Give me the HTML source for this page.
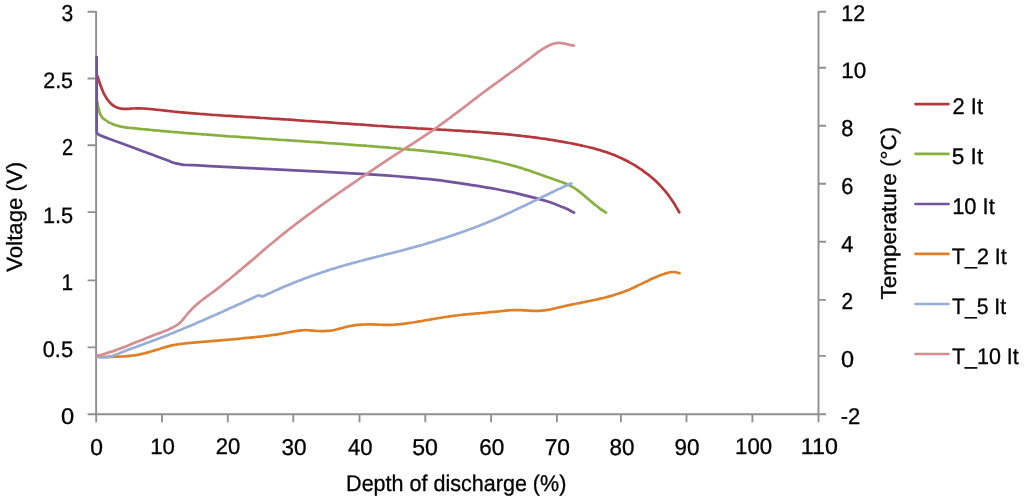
<!DOCTYPE html>
<html><head><meta charset="utf-8"><title>Depth of discharge chart</title>
<style>html,body{margin:0;padding:0;background:#fff;}svg{display:block;}text{font-family:'Liberation Sans', Arial, sans-serif;font-size:22px;fill:#000;stroke:#000;stroke-width:0.3px;text-rendering:geometricPrecision;}</style></head><body>
<svg width="1024" height="501" viewBox="0 0 1024 501">
<rect width="1024" height="501" fill="#fff"/>
<path d="M96.10,10.90V414.20 M818.50,10.90V414.20 M95.20,414.20H819.40 M87.60,11.80H96.10 M87.60,78.50H96.10 M87.60,145.30H96.10 M87.60,212.10H96.10 M87.60,280.40H96.10 M87.60,347.40H96.10 M87.60,414.20H96.10 M818.50,11.80H826.00 M818.50,67.70H826.00 M818.50,125.70H826.00 M818.50,183.80H826.00 M818.50,241.70H826.00 M818.50,299.90H826.00 M818.50,355.90H826.00 M818.50,414.20H826.00 M96.20,414.20V422.30 M162.00,414.20V422.30 M227.80,414.20V422.30 M293.30,414.20V422.30 M359.50,414.20V422.30 M425.30,414.20V422.30 M491.10,414.20V422.30 M556.90,414.20V422.30 M620.90,414.20V422.30 M686.50,414.20V422.30 M752.40,414.20V422.30 M818.50,414.20V422.30" stroke="#909090" stroke-width="1.9" fill="none"/>
<g fill="none" stroke-width="2.7" stroke-linejoin="round" stroke-linecap="round">
<path d="M97.5,76.1 C97.8,77.2 98.8,80.4 99.6,82.8 C100.4,85.2 101.8,88.8 102.5,90.5 C103.2,92.1 103.2,92.0 103.5,92.8 C103.9,93.5 104.1,94.0 104.6,94.9 C105.1,95.8 106.0,97.3 106.5,98.3 C107.1,99.2 107.5,99.7 108.0,100.3 C108.5,101.0 108.9,101.5 109.6,102.2 C110.2,102.9 111.0,103.8 112.0,104.6 C113.0,105.4 114.5,106.3 115.6,106.9 C116.7,107.5 117.9,107.8 118.6,108.1 C119.3,108.4 119.5,108.3 120.0,108.4 C120.5,108.5 120.9,108.6 121.6,108.7 C122.3,108.8 123.0,108.9 124.0,108.9 C125.0,108.9 126.5,108.9 127.6,108.8 C128.8,108.8 129.9,108.7 130.7,108.6 C131.4,108.6 131.5,108.6 132.0,108.5 C132.5,108.5 132.9,108.5 133.7,108.5 C134.5,108.4 135.7,108.4 136.7,108.4 C137.7,108.4 138.7,108.4 139.7,108.4 C140.7,108.4 141.7,108.5 142.7,108.5 C143.7,108.5 144.7,108.6 145.7,108.7 C146.7,108.7 148.1,108.8 148.7,108.9 C149.4,108.9 149.4,108.9 149.9,109.0 C150.4,109.0 150.9,109.1 151.8,109.2 C152.6,109.2 154.1,109.4 154.8,109.5 C155.5,109.5 155.4,109.5 155.9,109.6 C156.4,109.6 157.0,109.7 157.8,109.8 C158.6,109.9 159.8,110.0 160.8,110.1 C161.8,110.2 163.1,110.4 163.8,110.5 C164.5,110.6 164.5,110.6 165.0,110.6 C165.5,110.7 166.0,110.7 166.8,110.8 C167.6,110.9 168.8,111.0 169.8,111.1 C170.9,111.2 171.9,111.3 172.9,111.5 C173.9,111.6 174.9,111.7 175.9,111.8 C176.9,111.9 177.9,112.0 178.9,112.1 C179.9,112.1 180.9,112.2 181.9,112.3 C182.9,112.4 183.9,112.5 184.9,112.6 C185.9,112.7 186.9,112.8 187.9,112.9 C188.9,113.0 189.9,113.1 190.9,113.1 C192.0,113.2 193.0,113.3 194.0,113.4 C195.0,113.5 196.0,113.6 197.0,113.6 C198.0,113.7 199.0,113.8 200.0,113.9 C201.0,113.9 202.0,114.0 203.0,114.1 C204.0,114.2 205.0,114.2 206.0,114.3 C207.0,114.4 208.0,114.5 209.0,114.5 C210.0,114.6 211.0,114.7 212.1,114.8 C213.1,114.8 214.1,114.9 215.1,115.0 C216.1,115.0 217.1,115.1 218.1,115.2 C219.1,115.2 220.1,115.3 221.1,115.4 C222.1,115.4 223.1,115.5 224.1,115.6 C225.1,115.6 226.1,115.7 227.1,115.8 C228.1,115.8 229.1,115.9 230.1,115.9 C231.1,116.0 232.1,116.1 233.2,116.1 C234.2,116.2 235.2,116.3 236.2,116.3 C237.2,116.4 238.2,116.4 239.2,116.5 C240.2,116.6 241.2,116.6 242.2,116.7 C243.2,116.7 244.2,116.8 245.2,116.9 C246.2,116.9 247.2,117.0 248.2,117.1 C249.2,117.1 250.2,117.2 251.2,117.2 C252.2,117.3 253.2,117.4 254.3,117.4 C255.3,117.5 256.3,117.5 257.3,117.6 C258.2,117.7 258.9,117.7 259.9,117.8 C260.9,117.8 262.2,117.9 263.3,118.0 C264.4,118.0 265.3,118.1 266.3,118.2 C267.3,118.2 268.3,118.3 269.3,118.4 C270.3,118.4 271.3,118.5 272.3,118.6 C273.3,118.6 274.4,118.7 275.4,118.8 C276.4,118.8 277.4,118.9 278.4,118.9 C279.4,119.0 280.4,119.1 281.4,119.1 C282.4,119.2 283.4,119.3 284.4,119.3 C285.4,119.4 286.4,119.5 287.4,119.5 C288.4,119.6 289.4,119.7 290.4,119.7 C291.4,119.8 292.4,119.9 293.4,119.9 C294.4,120.0 295.5,120.1 296.5,120.2 C297.5,120.2 298.5,120.3 299.5,120.4 C300.5,120.4 301.5,120.5 302.5,120.6 C303.5,120.6 304.5,120.7 305.5,120.8 C306.5,120.8 307.8,120.9 308.5,121.0 C309.3,121.0 309.5,121.0 310.0,121.1 C310.5,121.1 310.8,121.1 311.5,121.2 C312.3,121.2 313.5,121.3 314.5,121.4 C315.5,121.5 316.7,121.5 317.6,121.6 C318.4,121.7 318.8,121.7 319.8,121.8 C320.8,121.8 322.5,121.9 323.6,122.0 C324.7,122.1 325.6,122.2 326.6,122.2 C327.6,122.3 328.6,122.4 329.6,122.4 C330.6,122.5 331.6,122.6 332.6,122.7 C333.6,122.7 334.6,122.8 335.6,122.9 C336.7,122.9 337.7,123.0 338.7,123.1 C339.7,123.1 340.7,123.2 341.7,123.3 C342.7,123.4 343.7,123.4 344.7,123.5 C345.7,123.6 346.7,123.6 347.7,123.7 C348.7,123.8 349.7,123.8 350.7,123.9 C351.7,124.0 352.7,124.1 353.7,124.1 C354.7,124.2 355.7,124.3 356.7,124.3 C357.8,124.4 358.8,124.5 359.8,124.5 C360.8,124.6 361.8,124.7 362.8,124.7 C363.8,124.8 364.8,124.9 365.8,125.0 C366.8,125.0 368.1,125.1 368.8,125.2 C369.5,125.2 369.4,125.2 369.9,125.2 C370.4,125.3 371.0,125.3 371.8,125.4 C372.6,125.4 373.8,125.5 374.8,125.6 C375.8,125.6 376.8,125.7 377.8,125.8 C378.9,125.8 379.9,125.9 380.9,126.0 C381.9,126.0 382.9,126.1 383.9,126.2 C384.9,126.2 385.9,126.3 386.9,126.4 C387.9,126.4 388.9,126.5 389.9,126.6 C390.9,126.6 391.9,126.7 392.9,126.8 C393.9,126.8 394.9,126.9 395.9,127.0 C396.9,127.0 397.9,127.1 399.0,127.2 C400.0,127.2 401.0,127.3 402.0,127.3 C403.0,127.4 404.0,127.5 405.0,127.5 C406.0,127.6 407.0,127.7 408.0,127.7 C409.0,127.8 410.0,127.9 411.0,127.9 C412.0,128.0 413.0,128.0 414.0,128.1 C415.0,128.2 416.0,128.2 417.0,128.3 C418.0,128.3 419.0,128.4 420.0,128.5 C421.0,128.5 422.1,128.6 423.1,128.6 C424.1,128.7 425.1,128.8 426.1,128.8 C427.1,128.9 428.1,128.9 429.1,129.0 C430.1,129.0 431.1,129.1 432.1,129.2 C433.1,129.2 434.1,129.3 435.1,129.3 C436.1,129.4 437.1,129.4 438.1,129.5 C439.1,129.6 440.1,129.6 441.2,129.7 C442.2,129.7 443.2,129.8 444.2,129.9 C445.2,129.9 446.2,130.0 447.2,130.0 C448.2,130.1 449.2,130.1 450.2,130.2 C451.2,130.3 452.2,130.3 453.2,130.4 C454.2,130.4 455.2,130.5 456.2,130.6 C457.2,130.6 458.2,130.7 459.2,130.7 C460.2,130.8 461.3,130.9 462.3,130.9 C463.3,131.0 464.3,131.1 465.3,131.1 C466.3,131.2 467.3,131.3 468.3,131.3 C469.3,131.4 470.3,131.4 471.3,131.5 C472.3,131.6 473.3,131.7 474.3,131.7 C475.3,131.8 476.4,131.9 477.3,131.9 C478.3,132.0 478.9,132.0 479.9,132.1 C480.9,132.2 482.3,132.3 483.4,132.4 C484.4,132.4 485.4,132.5 486.4,132.6 C487.4,132.7 488.4,132.7 489.4,132.8 C490.4,132.9 491.4,133.0 492.4,133.1 C493.4,133.1 494.4,133.2 495.4,133.3 C496.4,133.4 497.4,133.5 498.4,133.6 C499.4,133.7 500.4,133.7 501.4,133.8 C502.4,133.9 503.5,134.0 504.5,134.1 C505.5,134.2 506.5,134.3 507.5,134.4 C508.5,134.5 509.5,134.6 510.5,134.7 C511.5,134.8 512.5,134.9 513.5,135.0 C514.5,135.1 515.5,135.2 516.5,135.3 C517.5,135.4 518.5,135.5 519.5,135.6 C520.5,135.7 521.5,135.9 522.5,136.0 C523.6,136.1 524.6,136.2 525.6,136.3 C526.6,136.4 527.8,136.6 528.6,136.7 C529.3,136.8 529.5,136.8 530.0,136.9 C530.5,136.9 530.8,137.0 531.6,137.1 C532.4,137.2 533.6,137.3 534.6,137.4 C535.6,137.6 536.6,137.7 537.6,137.8 C538.6,138.0 539.6,138.1 540.6,138.3 C541.6,138.4 542.6,138.5 543.6,138.7 C544.7,138.8 545.7,139.0 546.7,139.1 C547.7,139.3 548.7,139.4 549.7,139.6 C550.7,139.7 552.0,140.0 552.7,140.1 C553.4,140.2 553.5,140.2 554.0,140.3 C554.5,140.4 554.9,140.4 555.7,140.6 C556.5,140.7 557.7,140.9 558.7,141.1 C559.7,141.2 560.7,141.4 561.7,141.6 C562.7,141.8 563.7,141.9 564.7,142.1 C565.8,142.3 566.8,142.5 567.8,142.7 C568.8,142.9 569.8,143.1 570.8,143.3 C571.8,143.5 572.8,143.7 573.8,143.9 C574.8,144.1 576.1,144.3 576.8,144.5 C577.5,144.6 577.4,144.6 577.9,144.7 C578.4,144.8 579.0,144.9 579.8,145.1 C580.6,145.3 581.8,145.5 582.8,145.8 C583.8,146.0 584.8,146.2 585.9,146.5 C586.9,146.7 587.9,146.9 588.9,147.2 C589.9,147.4 590.9,147.7 591.9,147.9 C592.9,148.2 593.9,148.4 594.9,148.7 C595.9,149.0 596.9,149.3 597.9,149.6 C598.9,149.8 599.9,150.1 600.9,150.4 C601.9,150.8 602.9,151.1 603.9,151.4 C604.9,151.7 605.9,152.1 607.0,152.4 C608.0,152.7 609.0,153.1 610.0,153.5 C611.0,153.8 612.0,154.2 613.0,154.6 C614.0,155.0 615.0,155.4 616.0,155.8 C617.0,156.2 618.0,156.7 619.0,157.1 C620.0,157.6 621.0,158.0 622.0,158.5 C623.0,159.0 624.0,159.5 625.0,160.0 C626.0,160.5 627.0,161.0 628.1,161.5 C629.1,162.1 630.1,162.6 631.1,163.2 C632.1,163.7 633.3,164.5 634.1,164.9 C634.9,165.4 635.4,165.7 635.9,166.0 C636.4,166.4 636.4,166.3 637.1,166.8 C637.8,167.3 639.1,168.1 640.1,168.8 C641.1,169.5 642.1,170.1 643.1,170.9 C644.1,171.6 645.3,172.5 646.1,173.1 C646.9,173.7 647.4,174.0 647.9,174.4 C648.4,174.8 648.4,174.8 649.2,175.4 C649.9,176.0 651.2,177.0 652.2,177.9 C653.2,178.8 654.2,179.6 655.2,180.6 C656.2,181.5 657.4,182.7 658.2,183.4 C659.0,184.2 659.4,184.7 659.9,185.2 C660.4,185.7 660.5,185.8 661.2,186.6 C661.9,187.4 663.2,188.8 664.2,190.0 C665.2,191.2 666.4,192.6 667.2,193.7 C668.1,194.8 668.5,195.3 669.5,196.7 C670.5,198.1 672.5,201.0 673.3,202.2 C674.1,203.4 673.8,203.0 674.3,203.8 C674.8,204.6 675.5,205.6 676.3,207.1 C677.1,208.5 678.8,211.5 679.3,212.4" stroke="#B3393F"/>
<path d="M97.0,101.1 C97.2,102.3 97.8,105.7 98.3,107.8 C98.8,109.8 99.4,111.9 100.0,113.5 C100.6,115.1 101.5,116.4 102.0,117.2 C102.5,118.0 102.4,117.7 103.0,118.3 C103.7,118.8 105.2,119.9 106.0,120.5 C106.9,121.1 107.5,121.5 108.0,121.8 C108.5,122.1 108.4,122.0 109.0,122.4 C109.7,122.7 111.1,123.4 112.1,123.8 C113.1,124.3 114.1,124.7 115.1,125.0 C116.1,125.4 117.1,125.7 118.1,125.9 C119.1,126.2 120.1,126.4 121.1,126.7 C122.1,126.9 123.1,127.0 124.1,127.2 C125.1,127.3 126.1,127.5 127.1,127.6 C128.1,127.7 129.3,127.9 130.1,127.9 C130.9,128.0 131.5,128.1 132.0,128.1 C132.5,128.2 132.4,128.2 133.1,128.2 C133.8,128.3 135.1,128.4 136.2,128.5 C137.2,128.6 138.2,128.7 139.2,128.8 C140.2,128.9 141.2,129.0 142.2,129.1 C143.2,129.2 144.2,129.3 145.2,129.4 C146.2,129.5 147.2,129.6 148.2,129.7 C149.2,129.8 150.2,129.9 151.2,130.0 C152.2,130.1 153.4,130.2 154.2,130.3 C155.0,130.3 155.4,130.4 155.9,130.4 C156.4,130.5 156.5,130.5 157.2,130.5 C158.0,130.6 159.2,130.7 160.2,130.8 C161.3,130.9 162.3,131.0 163.3,131.1 C164.3,131.2 165.3,131.2 166.3,131.3 C167.3,131.4 168.3,131.5 169.3,131.6 C170.3,131.7 171.3,131.8 172.3,131.9 C173.3,131.9 174.3,132.0 175.3,132.1 C176.3,132.2 177.6,132.3 178.3,132.4 C179.1,132.4 179.3,132.4 179.8,132.5 C180.3,132.5 180.6,132.5 181.3,132.6 C182.1,132.7 183.3,132.8 184.3,132.9 C185.3,132.9 186.4,133.0 187.4,133.1 C188.4,133.2 189.4,133.3 190.4,133.3 C191.4,133.4 192.4,133.5 193.4,133.6 C194.4,133.7 195.4,133.7 196.4,133.8 C197.4,133.9 198.4,134.0 199.4,134.0 C200.4,134.1 201.4,134.2 202.4,134.3 C203.4,134.4 204.4,134.4 205.4,134.5 C206.4,134.6 207.7,134.7 208.4,134.7 C209.2,134.8 209.3,134.8 209.8,134.8 C210.3,134.9 210.7,134.9 211.4,135.0 C212.2,135.0 213.5,135.1 214.5,135.2 C215.5,135.3 216.5,135.3 217.5,135.4 C218.5,135.5 219.5,135.5 220.5,135.6 C221.5,135.7 222.5,135.8 223.5,135.8 C224.5,135.9 225.5,136.0 226.5,136.1 C227.5,136.1 228.5,136.2 229.5,136.3 C230.5,136.3 231.5,136.4 232.5,136.5 C233.5,136.6 234.5,136.6 235.5,136.7 C236.5,136.8 237.6,136.8 238.6,136.9 C239.6,137.0 240.6,137.0 241.6,137.1 C242.6,137.2 243.6,137.3 244.6,137.3 C245.6,137.4 246.6,137.5 247.6,137.5 C248.6,137.6 249.6,137.7 250.6,137.7 C251.6,137.8 252.6,137.9 253.6,137.9 C254.6,138.0 255.6,138.1 256.6,138.2 C257.6,138.2 258.6,138.3 259.6,138.4 C260.6,138.4 261.6,138.5 262.7,138.6 C263.7,138.6 264.7,138.7 265.7,138.8 C266.7,138.8 267.7,138.9 268.7,139.0 C269.7,139.0 270.7,139.1 271.7,139.2 C272.7,139.2 273.7,139.3 274.7,139.4 C275.7,139.4 276.7,139.5 277.7,139.6 C278.7,139.6 279.7,139.7 280.7,139.8 C281.7,139.8 282.7,139.9 283.7,140.0 C284.7,140.1 285.7,140.1 286.7,140.2 C287.7,140.3 288.8,140.3 289.8,140.4 C290.8,140.5 291.8,140.5 292.8,140.6 C293.8,140.7 294.8,140.7 295.8,140.8 C296.8,140.9 297.8,140.9 298.8,141.0 C299.8,141.1 300.8,141.1 301.8,141.2 C302.8,141.3 303.8,141.3 304.8,141.4 C305.8,141.5 307.0,141.6 307.8,141.6 C308.7,141.7 309.0,141.7 310.0,141.8 C311.0,141.8 312.7,141.9 313.9,142.0 C315.0,142.1 315.9,142.2 316.9,142.2 C317.9,142.3 318.9,142.4 319.9,142.4 C320.9,142.5 321.9,142.6 322.9,142.7 C323.9,142.7 324.9,142.8 325.9,142.9 C326.9,142.9 327.9,143.0 328.9,143.1 C329.9,143.1 330.9,143.2 331.9,143.3 C332.9,143.4 333.9,143.4 334.9,143.5 C335.9,143.6 336.9,143.6 337.9,143.7 C339.0,143.8 340.0,143.9 341.0,143.9 C342.0,144.0 343.0,144.1 344.0,144.2 C345.0,144.2 346.0,144.3 347.0,144.4 C348.0,144.5 349.0,144.5 350.0,144.6 C351.0,144.7 352.0,144.8 353.0,144.8 C354.0,144.9 355.0,145.0 356.0,145.1 C357.0,145.1 358.0,145.2 359.0,145.3 C360.0,145.4 361.0,145.4 362.0,145.5 C363.0,145.6 364.0,145.7 365.1,145.7 C366.1,145.8 367.3,145.9 368.1,146.0 C368.9,146.0 369.4,146.1 369.9,146.1 C370.4,146.2 370.4,146.2 371.1,146.2 C371.8,146.3 373.1,146.4 374.1,146.5 C375.1,146.5 376.1,146.6 377.1,146.7 C378.1,146.8 379.1,146.9 380.1,147.0 C381.1,147.0 382.1,147.1 383.1,147.2 C384.1,147.3 385.1,147.4 386.1,147.4 C387.1,147.5 388.1,147.6 389.1,147.7 C390.2,147.8 391.2,147.9 392.2,148.0 C393.2,148.0 394.2,148.1 395.2,148.2 C396.2,148.3 397.2,148.4 398.2,148.5 C399.2,148.6 400.2,148.7 401.2,148.8 C402.2,148.8 403.2,148.9 404.2,149.0 C405.2,149.1 406.2,149.2 407.2,149.3 C408.2,149.4 409.2,149.5 410.2,149.6 C411.2,149.7 412.2,149.8 413.2,149.8 C414.2,149.9 415.3,150.0 416.3,150.1 C417.3,150.2 418.3,150.3 419.3,150.4 C420.3,150.5 421.3,150.6 422.3,150.7 C423.3,150.8 424.3,150.9 425.3,151.0 C426.3,151.1 427.5,151.2 428.3,151.3 C429.1,151.4 429.5,151.4 430.0,151.5 C430.5,151.5 430.6,151.5 431.3,151.6 C432.0,151.7 433.3,151.8 434.3,151.9 C435.3,152.0 436.3,152.1 437.3,152.3 C438.3,152.4 439.3,152.5 440.3,152.6 C441.4,152.7 442.4,152.8 443.4,152.9 C444.4,153.0 445.6,153.2 446.4,153.3 C447.1,153.4 447.5,153.4 448.0,153.5 C448.5,153.5 448.7,153.5 449.4,153.6 C450.1,153.7 451.4,153.9 452.4,154.0 C453.4,154.1 454.4,154.3 455.4,154.4 C456.4,154.5 457.4,154.7 458.4,154.8 C459.4,154.9 460.4,155.1 461.4,155.2 C462.4,155.4 463.7,155.6 464.4,155.7 C465.2,155.8 465.4,155.8 465.9,155.9 C466.4,156.0 466.7,156.0 467.5,156.1 C468.2,156.2 469.5,156.4 470.5,156.6 C471.5,156.7 472.5,156.9 473.5,157.1 C474.5,157.2 475.5,157.4 476.5,157.6 C477.5,157.8 478.5,157.9 479.5,158.1 C480.5,158.3 481.8,158.5 482.5,158.7 C483.2,158.8 483.4,158.8 483.9,158.9 C484.4,159.0 484.8,159.1 485.5,159.2 C486.3,159.4 487.5,159.6 488.5,159.8 C489.5,160.0 490.5,160.2 491.6,160.5 C492.6,160.7 493.6,160.9 494.6,161.1 C495.6,161.3 496.6,161.5 497.6,161.8 C498.6,162.0 499.9,162.3 500.6,162.5 C501.3,162.6 501.3,162.6 501.8,162.8 C502.3,162.9 502.8,163.0 503.6,163.2 C504.4,163.4 505.6,163.7 506.6,164.0 C507.6,164.2 508.6,164.5 509.6,164.7 C510.6,165.0 511.6,165.3 512.6,165.6 C513.6,165.8 514.6,166.1 515.6,166.4 C516.6,166.7 517.7,167.0 518.7,167.3 C519.7,167.6 520.8,167.9 521.7,168.2 C522.6,168.5 523.0,168.6 524.0,168.9 C525.0,169.3 526.6,169.8 527.7,170.1 C528.8,170.5 529.7,170.8 530.7,171.1 C531.7,171.5 532.7,171.8 533.7,172.2 C534.7,172.5 535.7,172.9 536.7,173.2 C537.7,173.6 538.7,173.9 539.7,174.3 C540.7,174.7 541.7,175.0 542.8,175.4 C543.8,175.7 544.8,176.1 545.8,176.5 C546.8,176.8 547.8,177.2 548.8,177.6 C549.8,177.9 550.8,178.3 551.8,178.6 C552.8,179.0 553.8,179.4 554.8,179.7 C555.8,180.1 556.8,180.4 557.8,180.8 C558.8,181.1 559.8,181.5 560.8,181.8 C561.8,182.2 563.0,182.6 563.8,182.9 C564.7,183.3 565.0,183.4 566.0,183.8 C567.0,184.2 568.9,185.1 569.9,185.6 C570.9,186.1 571.0,186.1 572.0,186.7 C573.0,187.3 574.7,188.4 575.9,189.2 C577.0,190.0 577.9,190.6 578.9,191.4 C579.9,192.1 581.1,193.1 581.9,193.7 C582.7,194.4 583.3,194.8 583.8,195.3 C584.3,195.7 584.2,195.6 584.9,196.2 C585.6,196.8 586.9,197.9 587.9,198.7 C588.9,199.6 589.9,200.5 590.9,201.3 C591.9,202.2 593.1,203.2 594.0,203.9 C594.8,204.6 595.0,204.7 596.0,205.5 C597.0,206.3 598.8,207.7 600.0,208.6 C601.1,209.5 602.0,210.1 603.0,210.7 C604.0,211.4 605.5,212.3 606.0,212.6" stroke="#88B03F"/>
<path d="M96.7,57.2 L96.7,131.8 C97.2,132.3 96.0,133.3 99.5,135.0 C103.0,136.7 111.8,139.7 118.0,142.0 C124.2,144.3 130.8,146.7 137.0,149.0 C143.2,151.3 149.8,153.9 155.0,155.8 C160.2,157.7 164.5,159.3 168.0,160.6 C171.5,161.9 173.4,162.7 176.0,163.4 C178.6,164.1 180.8,164.5 183.4,164.8 C186.0,165.1 187.4,164.9 191.8,165.1 C196.2,165.3 198.5,165.5 209.8,166.1 C221.2,166.7 241.6,167.7 259.9,168.6 C278.2,169.5 301.5,170.6 319.8,171.6 C338.1,172.6 356.5,173.6 369.9,174.4 C383.3,175.2 389.0,175.6 400.0,176.5 C411.0,177.4 423.9,178.4 435.9,179.8 C447.9,181.2 461.9,183.6 471.9,185.1 C481.9,186.6 487.8,187.5 495.8,189.0 C503.8,190.5 511.1,192.0 519.8,194.1 C528.5,196.2 540.6,199.2 547.9,201.5 C555.2,203.8 559.4,205.8 563.8,207.6 C568.1,209.4 572.3,211.8 574.0,212.6" stroke="#71549C"/>
<path d="M97.0,356.4 C97.5,356.5 99.0,356.6 100.0,356.6 C101.0,356.7 102.0,356.7 103.0,356.8 C104.0,356.8 105.0,356.8 106.0,356.8 C107.0,356.8 108.3,356.8 109.0,356.8 C109.7,356.8 109.9,356.8 110.4,356.8 C110.9,356.8 111.2,356.8 112.0,356.8 C112.8,356.7 114.0,356.7 115.0,356.7 C116.0,356.7 117.0,356.7 118.0,356.6 C119.0,356.6 120.0,356.5 121.0,356.5 C122.0,356.5 123.0,356.4 124.0,356.3 C125.0,356.3 126.0,356.2 127.0,356.1 C128.0,356.0 129.0,355.9 130.0,355.8 C131.0,355.7 132.0,355.6 133.0,355.5 C134.0,355.4 135.0,355.2 136.0,355.1 C137.0,354.9 138.0,354.7 139.0,354.6 C140.0,354.4 141.0,354.2 142.0,353.9 C143.0,353.7 144.0,353.5 145.0,353.2 C146.0,353.0 147.0,352.7 148.0,352.4 C149.0,352.1 150.0,351.8 151.0,351.5 C152.0,351.2 153.0,350.9 154.0,350.6 C155.0,350.3 156.1,350.0 157.1,349.7 C158.1,349.4 159.1,349.0 160.1,348.7 C161.1,348.4 162.1,348.1 163.1,347.8 C164.1,347.5 165.1,347.2 166.1,346.9 C167.1,346.7 168.1,346.4 169.1,346.1 C170.1,345.9 171.1,345.7 172.1,345.4 C173.1,345.2 174.1,345.0 175.1,344.8 C176.1,344.6 177.1,344.5 178.1,344.3 C179.1,344.1 180.1,344.0 181.1,343.9 C182.1,343.7 183.1,343.6 184.1,343.5 C185.1,343.4 186.1,343.2 187.1,343.1 C188.1,343.0 189.1,342.9 190.1,342.8 C191.1,342.8 192.1,342.7 193.1,342.6 C194.1,342.5 195.1,342.4 196.1,342.3 C197.1,342.3 198.1,342.2 199.1,342.1 C200.1,342.0 201.1,342.0 202.1,341.9 C203.1,341.8 204.1,341.7 205.1,341.6 C206.1,341.6 207.1,341.5 208.1,341.4 C209.1,341.3 210.1,341.2 211.1,341.2 C212.1,341.1 213.1,341.0 214.1,340.9 C215.1,340.8 216.1,340.8 217.1,340.7 C218.1,340.6 219.1,340.5 220.1,340.4 C221.1,340.3 222.1,340.2 223.1,340.2 C224.1,340.1 225.1,340.0 226.1,339.9 C227.1,339.8 228.1,339.7 229.1,339.6 C230.1,339.5 231.1,339.5 232.1,339.4 C233.1,339.3 234.1,339.2 235.1,339.1 C236.1,339.0 237.1,338.9 238.1,338.8 C239.1,338.7 240.1,338.6 241.1,338.5 C242.1,338.4 243.1,338.3 244.1,338.2 C245.1,338.1 246.1,338.0 247.1,337.9 C248.1,337.8 249.1,337.7 250.1,337.6 C251.1,337.5 252.1,337.4 253.1,337.3 C254.1,337.2 255.1,337.1 256.1,337.0 C257.1,336.9 258.1,336.8 259.1,336.7 C260.1,336.6 261.2,336.5 262.1,336.4 C263.1,336.2 264.0,336.1 265.0,336.0 C266.0,335.9 267.1,335.8 268.1,335.6 C269.2,335.5 270.1,335.4 271.1,335.2 C272.2,335.1 273.2,335.0 274.2,334.8 C275.2,334.7 276.2,334.5 277.2,334.4 C278.2,334.2 279.2,334.1 280.2,333.9 C281.2,333.7 282.2,333.5 283.2,333.4 C284.2,333.2 285.2,333.0 286.2,332.8 C287.2,332.6 288.2,332.4 289.2,332.2 C290.2,332.0 291.2,331.8 292.2,331.7 C293.2,331.5 294.3,331.3 295.2,331.1 C296.0,331.0 296.4,330.9 297.4,330.8 C298.4,330.7 300.0,330.5 301.2,330.4 C302.3,330.3 303.3,330.2 304.2,330.2 C305.0,330.1 305.4,330.1 306.4,330.2 C307.4,330.2 309.1,330.3 310.2,330.3 C311.3,330.4 312.3,330.5 313.2,330.6 C314.1,330.7 314.4,330.7 315.4,330.8 C316.4,330.8 318.1,330.9 319.2,331.0 C320.3,331.0 321.3,331.1 322.2,331.1 C323.1,331.1 323.4,331.1 324.4,331.1 C325.4,331.0 327.1,330.9 328.2,330.8 C329.3,330.8 330.4,330.6 331.2,330.5 C332.1,330.4 332.3,330.4 333.3,330.2 C334.3,330.0 336.1,329.6 337.2,329.3 C338.4,329.0 339.2,328.8 340.2,328.5 C341.2,328.3 342.2,328.0 343.2,327.7 C344.2,327.4 345.2,327.2 346.2,326.9 C347.2,326.7 348.2,326.5 349.2,326.2 C350.2,326.0 351.2,325.9 352.2,325.7 C353.2,325.5 354.2,325.4 355.2,325.2 C356.2,325.1 357.2,325.0 358.2,324.9 C359.2,324.8 360.2,324.7 361.2,324.6 C362.2,324.6 363.2,324.5 364.2,324.5 C365.2,324.4 366.2,324.4 367.2,324.4 C368.2,324.4 369.4,324.4 370.2,324.4 C371.1,324.4 371.4,324.4 372.4,324.4 C373.4,324.4 375.1,324.5 376.2,324.6 C377.4,324.6 378.2,324.7 379.2,324.7 C380.2,324.7 381.2,324.8 382.2,324.8 C383.2,324.9 384.2,324.9 385.2,324.9 C386.2,324.9 387.2,324.9 388.2,324.9 C389.3,324.9 390.3,324.9 391.3,324.8 C392.3,324.8 393.3,324.7 394.3,324.7 C395.3,324.6 396.3,324.5 397.3,324.4 C398.3,324.4 399.3,324.3 400.3,324.1 C401.3,324.0 402.3,323.9 403.3,323.8 C404.3,323.7 405.3,323.6 406.3,323.4 C407.3,323.3 408.3,323.1 409.3,323.0 C410.3,322.8 411.3,322.7 412.3,322.5 C413.3,322.4 414.4,322.2 415.3,322.1 C416.1,321.9 416.3,321.9 417.3,321.7 C418.3,321.6 420.1,321.2 421.3,321.1 C422.4,320.9 423.3,320.7 424.3,320.5 C425.3,320.4 426.3,320.2 427.3,320.0 C428.2,319.9 429.0,319.7 430.0,319.6 C431.0,319.4 432.2,319.2 433.3,319.0 C434.3,318.8 435.3,318.7 436.3,318.5 C437.3,318.3 438.3,318.2 439.3,318.0 C440.3,317.8 441.3,317.7 442.3,317.5 C443.3,317.4 444.3,317.2 445.3,317.0 C446.3,316.9 447.3,316.7 448.3,316.6 C449.3,316.4 450.3,316.3 451.3,316.2 C452.3,316.0 453.5,315.9 454.3,315.7 C455.2,315.6 455.4,315.6 456.4,315.5 C457.4,315.4 459.2,315.1 460.3,315.0 C461.5,314.9 462.3,314.8 463.3,314.7 C464.3,314.6 465.3,314.5 466.3,314.4 C467.3,314.3 468.3,314.2 469.3,314.1 C470.3,314.0 471.3,313.9 472.3,313.8 C473.3,313.7 474.3,313.6 475.3,313.5 C476.3,313.4 477.3,313.4 478.3,313.3 C479.3,313.2 480.3,313.1 481.3,313.0 C482.3,312.9 483.3,312.8 484.3,312.8 C485.3,312.7 486.3,312.6 487.3,312.5 C488.3,312.4 489.3,312.3 490.3,312.2 C491.3,312.1 492.3,312.0 493.3,311.9 C494.3,311.9 495.3,311.8 496.3,311.7 C497.3,311.6 498.3,311.5 499.3,311.3 C500.3,311.2 501.3,311.1 502.3,311.0 C503.3,310.9 504.3,310.8 505.4,310.7 C506.4,310.6 507.4,310.5 508.4,310.4 C509.4,310.3 510.5,310.2 511.4,310.2 C512.2,310.1 512.5,310.1 513.5,310.1 C514.5,310.1 516.2,310.0 517.4,310.0 C518.5,310.1 519.4,310.1 520.4,310.1 C521.4,310.2 522.4,310.2 523.4,310.3 C524.4,310.3 525.4,310.4 526.4,310.4 C527.4,310.5 528.4,310.6 529.4,310.6 C530.4,310.7 531.4,310.8 532.4,310.8 C533.4,310.8 534.4,310.9 535.4,310.9 C536.4,310.9 537.5,310.9 538.4,310.9 C539.2,310.9 539.4,310.9 540.4,310.8 C541.4,310.7 543.2,310.5 544.4,310.4 C545.5,310.3 546.6,310.1 547.4,309.9 C548.2,309.8 548.4,309.8 549.4,309.6 C550.4,309.4 552.2,309.0 553.4,308.7 C554.6,308.5 555.4,308.3 556.4,308.0 C557.4,307.8 558.4,307.6 559.4,307.3 C560.4,307.1 561.4,306.8 562.4,306.6 C563.4,306.4 564.4,306.1 565.4,305.9 C566.4,305.7 567.4,305.5 568.4,305.3 C569.4,305.0 570.4,304.8 571.4,304.6 C572.4,304.4 573.5,304.2 574.4,304.0 C575.3,303.8 576.0,303.7 577.0,303.5 C578.0,303.3 579.3,303.0 580.4,302.8 C581.5,302.6 582.4,302.4 583.4,302.2 C584.4,302.0 585.4,301.8 586.4,301.6 C587.4,301.4 588.4,301.2 589.4,301.0 C590.4,300.8 591.4,300.6 592.4,300.4 C593.4,300.2 594.4,300.0 595.4,299.8 C596.4,299.6 597.4,299.3 598.4,299.1 C599.4,298.9 600.4,298.7 601.4,298.4 C602.4,298.2 603.4,297.9 604.4,297.7 C605.4,297.4 606.4,297.2 607.4,296.9 C608.4,296.7 609.4,296.4 610.4,296.1 C611.4,295.8 612.4,295.5 613.4,295.2 C614.4,294.9 615.4,294.6 616.4,294.3 C617.4,294.0 618.4,293.6 619.4,293.3 C620.4,293.0 621.5,292.6 622.5,292.2 C623.5,291.9 624.5,291.5 625.5,291.1 C626.5,290.7 627.5,290.3 628.5,289.9 C629.5,289.5 630.5,289.1 631.5,288.6 C632.5,288.2 633.5,287.7 634.5,287.2 C635.5,286.8 636.5,286.3 637.5,285.8 C638.5,285.4 639.5,284.9 640.5,284.4 C641.5,283.9 642.5,283.4 643.5,282.9 C644.5,282.4 645.5,281.9 646.5,281.5 C647.5,281.0 648.5,280.5 649.5,280.0 C650.5,279.5 651.6,279.0 652.5,278.6 C653.4,278.2 654.0,277.9 655.0,277.5 C656.0,277.0 657.4,276.4 658.5,276.0 C659.6,275.6 660.6,275.2 661.5,274.8 C662.4,274.5 662.9,274.3 663.9,274.0 C664.9,273.6 666.6,273.1 667.5,272.9 C668.4,272.6 668.5,272.6 669.5,272.4 C670.5,272.3 672.4,272.0 673.5,272.0 C674.6,272.0 674.9,272.0 675.9,272.2 C676.9,272.4 678.9,273.0 679.5,273.2" stroke="#DF8026"/>
<path d="M97.0,356.7 C97.5,356.8 99.0,357.2 100.0,357.4 C101.0,357.5 102.2,357.5 103.1,357.5 C104.1,357.5 104.7,357.5 105.7,357.3 C106.7,357.2 108.1,356.9 109.2,356.7 C110.3,356.5 111.5,356.1 112.3,355.9 C113.0,355.6 113.0,355.6 113.5,355.4 C114.0,355.3 114.5,355.1 115.3,354.8 C116.1,354.5 117.4,354.0 118.4,353.7 C119.4,353.3 120.3,352.9 121.3,352.5 C122.3,352.1 123.4,351.7 124.5,351.3 C125.5,350.9 126.5,350.5 127.5,350.1 C128.5,349.7 129.6,349.3 130.6,348.9 C131.5,348.6 132.0,348.4 133.0,348.0 C134.0,347.7 135.5,347.1 136.7,346.7 C137.8,346.3 138.7,345.9 139.7,345.6 C140.7,345.2 141.7,344.8 142.8,344.4 C143.8,344.1 144.8,343.7 145.8,343.3 C146.8,343.0 147.8,342.6 148.9,342.2 C149.9,341.8 150.9,341.5 151.9,341.1 C152.9,340.7 154.0,340.3 155.0,339.9 C156.0,339.6 157.0,339.2 158.0,338.8 C159.0,338.4 160.1,338.0 161.1,337.6 C162.1,337.2 163.1,336.8 164.1,336.4 C165.1,336.0 166.2,335.6 167.2,335.2 C168.2,334.8 169.0,334.5 170.0,334.1 C171.0,333.7 172.2,333.2 173.3,332.8 C174.3,332.4 175.3,332.0 176.3,331.6 C177.3,331.1 178.4,330.7 179.4,330.3 C180.3,329.9 181.0,329.7 182.0,329.2 C183.0,328.8 184.4,328.2 185.5,327.8 C186.6,327.3 187.5,326.9 188.5,326.5 C189.5,326.1 190.7,325.6 191.6,325.2 C192.5,324.8 193.0,324.6 194.0,324.2 C195.0,323.8 196.6,323.1 197.7,322.6 C198.8,322.1 199.7,321.7 200.7,321.3 C201.7,320.9 202.8,320.4 203.8,320.0 C204.8,319.5 205.8,319.1 206.8,318.6 C207.9,318.2 208.9,317.7 209.9,317.3 C210.9,316.8 211.9,316.4 212.9,315.9 C214.0,315.5 215.0,315.0 216.0,314.6 C217.0,314.1 218.0,313.7 219.0,313.2 C220.1,312.8 221.1,312.3 222.1,311.9 C223.1,311.4 224.1,311.0 225.1,310.5 C226.2,310.0 227.2,309.6 228.2,309.1 C229.2,308.7 229.9,308.4 230.9,307.9 C231.9,307.4 233.2,306.9 234.3,306.4 C235.4,305.9 236.3,305.4 237.3,305.0 C238.4,304.5 239.4,304.1 240.4,303.6 C241.4,303.1 242.4,302.7 243.4,302.2 C244.5,301.7 245.6,301.2 246.5,300.8 C247.4,300.4 247.9,300.2 248.9,299.7 C249.9,299.2 251.5,298.5 252.6,298.0 C253.7,297.5 254.6,297.1 255.6,296.6 C256.7,296.2 258.2,295.5 258.7,295.2 L262.3,296.6 C262.8,296.4 264.3,295.7 265.3,295.2 C266.3,294.7 267.3,294.2 268.4,293.8 C269.4,293.3 270.4,292.8 271.4,292.4 C272.4,291.9 273.4,291.5 274.4,291.0 C275.4,290.6 276.4,290.1 277.4,289.7 C278.5,289.2 279.5,288.8 280.5,288.3 C281.5,287.9 282.5,287.5 283.5,287.0 C284.5,286.6 285.8,286.1 286.5,285.7 C287.3,285.4 287.5,285.3 288.0,285.1 C288.5,284.9 288.8,284.8 289.6,284.5 C290.3,284.2 291.6,283.7 292.6,283.3 C293.6,282.8 294.6,282.4 295.6,282.0 C296.6,281.6 297.6,281.2 298.7,280.8 C299.7,280.5 300.7,280.1 301.7,279.7 C302.7,279.3 304.0,278.8 304.7,278.5 C305.4,278.3 305.4,278.3 305.9,278.1 C306.4,277.9 306.9,277.7 307.7,277.4 C308.6,277.1 309.8,276.7 310.8,276.3 C311.8,275.9 312.8,275.6 313.8,275.2 C314.8,274.8 315.8,274.5 316.8,274.1 C317.8,273.8 318.8,273.4 319.9,273.1 C320.9,272.8 322.2,272.3 322.9,272.1 C323.6,271.8 323.4,271.9 323.9,271.7 C324.4,271.6 325.1,271.3 325.9,271.1 C326.8,270.8 327.9,270.4 328.9,270.1 C330.0,269.8 331.0,269.4 332.0,269.1 C333.0,268.8 334.0,268.5 335.0,268.2 C336.0,267.9 337.0,267.6 338.0,267.3 C339.0,267.0 340.1,266.7 341.1,266.4 C342.1,266.1 343.1,265.8 344.1,265.5 C345.1,265.2 346.1,264.9 347.1,264.6 C348.1,264.3 349.1,264.0 350.2,263.8 C351.2,263.5 352.2,263.2 353.2,262.9 C354.2,262.6 355.2,262.4 356.2,262.1 C357.2,261.8 358.2,261.6 359.2,261.3 C360.3,261.0 361.3,260.8 362.3,260.5 C363.3,260.2 364.3,260.0 365.3,259.7 C366.3,259.4 367.3,259.2 368.3,258.9 C369.3,258.7 370.3,258.4 371.4,258.2 C372.4,257.9 373.4,257.6 374.4,257.4 C375.4,257.1 376.4,256.9 377.4,256.6 C378.4,256.4 379.4,256.1 380.4,255.9 C381.5,255.6 382.5,255.4 383.5,255.1 C384.5,254.9 385.5,254.6 386.5,254.3 C387.5,254.1 388.5,253.8 389.5,253.6 C390.5,253.3 391.6,253.1 392.6,252.8 C393.6,252.6 394.6,252.3 395.6,252.1 C396.6,251.8 397.6,251.5 398.6,251.3 C399.6,251.0 400.6,250.8 401.7,250.5 C402.7,250.2 403.7,250.0 404.7,249.7 C405.7,249.4 406.7,249.2 407.7,248.9 C408.7,248.6 409.7,248.4 410.7,248.1 C411.8,247.8 412.8,247.5 413.8,247.3 C414.8,247.0 415.8,246.7 416.8,246.4 C417.8,246.1 418.8,245.9 419.8,245.6 C420.8,245.3 421.8,245.0 422.9,244.7 C423.9,244.4 424.9,244.1 425.9,243.8 C426.9,243.5 427.9,243.2 428.9,242.9 C429.9,242.6 430.9,242.3 431.9,242.0 C433.0,241.7 434.0,241.4 435.0,241.0 C436.0,240.7 437.0,240.4 438.0,240.1 C439.0,239.8 440.0,239.5 441.0,239.1 C442.0,238.8 443.1,238.5 444.1,238.2 C445.1,237.8 446.1,237.5 447.1,237.2 C448.1,236.8 449.1,236.5 450.1,236.2 C451.1,235.8 452.2,235.5 453.2,235.1 C454.1,234.8 454.9,234.6 455.9,234.2 C456.9,233.9 458.2,233.4 459.2,233.1 C460.3,232.7 461.2,232.4 462.2,232.0 C463.3,231.6 464.3,231.3 465.3,230.9 C466.3,230.6 467.3,230.2 468.3,229.8 C469.3,229.5 470.4,229.1 471.3,228.7 C472.3,228.4 472.9,228.1 473.9,227.8 C474.9,227.4 476.3,226.8 477.4,226.4 C478.5,226.0 479.4,225.6 480.4,225.3 C481.4,224.9 482.4,224.5 483.4,224.1 C484.5,223.7 485.5,223.2 486.5,222.8 C487.5,222.4 488.6,222.0 489.5,221.6 C490.4,221.2 490.8,221.1 491.8,220.6 C492.8,220.2 494.4,219.5 495.6,219.0 C496.7,218.5 497.6,218.1 498.6,217.7 C499.6,217.3 500.6,216.8 501.6,216.4 C502.6,215.9 503.6,215.4 504.7,215.0 C505.7,214.5 506.7,214.1 507.7,213.6 C508.7,213.1 509.8,212.6 510.7,212.2 C511.6,211.8 512.0,211.6 513.0,211.1 C514.0,210.6 515.6,209.9 516.8,209.3 C517.9,208.8 518.8,208.4 519.8,207.9 C520.8,207.4 521.8,206.9 522.8,206.4 C523.8,206.0 524.8,205.5 525.9,205.0 C526.9,204.5 528.0,203.9 528.9,203.5 C529.7,203.1 530.4,202.8 530.9,202.5 C531.4,202.3 531.2,202.4 531.9,202.0 C532.6,201.7 533.9,201.1 534.9,200.6 C536.0,200.1 537.0,199.6 538.0,199.1 C539.0,198.6 540.0,198.1 541.0,197.6 C542.0,197.1 543.0,196.6 544.0,196.1 C545.0,195.7 546.3,195.1 547.1,194.7 C547.9,194.3 548.4,194.0 548.9,193.8 C549.4,193.6 549.4,193.6 550.1,193.2 C550.8,192.9 552.1,192.3 553.1,191.8 C554.1,191.3 555.1,190.8 556.2,190.3 C557.2,189.9 558.2,189.4 559.2,188.9 C560.2,188.4 561.2,188.0 562.2,187.5 C563.2,187.0 564.2,186.6 565.2,186.1 C566.3,185.6 567.3,185.2 568.3,184.7 C569.3,184.3 570.8,183.6 571.3,183.4" stroke="#98AED7"/>
<path d="M97.2,355.8 C97.7,355.6 99.2,355.3 100.2,355.0 C101.2,354.8 102.2,354.5 103.2,354.2 C104.2,353.9 105.2,353.6 106.2,353.3 C107.3,353.0 108.3,352.7 109.3,352.4 C110.3,352.1 111.6,351.6 112.3,351.4 C113.0,351.2 113.0,351.2 113.5,351.0 C114.0,350.8 114.5,350.6 115.3,350.4 C116.1,350.1 117.3,349.6 118.3,349.3 C119.3,348.9 120.3,348.5 121.3,348.1 C122.3,347.8 123.6,347.3 124.3,347.0 C125.1,346.7 125.4,346.6 125.9,346.4 C126.4,346.2 126.6,346.1 127.4,345.8 C128.1,345.5 129.4,345.0 130.4,344.6 C131.4,344.2 132.4,343.8 133.4,343.3 C134.4,342.9 135.4,342.5 136.4,342.1 C137.4,341.7 138.4,341.3 139.4,340.9 C140.4,340.5 141.4,340.1 142.4,339.7 C143.5,339.2 144.5,338.8 145.5,338.4 C146.5,338.0 147.5,337.6 148.5,337.2 C149.5,336.8 150.5,336.4 151.5,336.1 C152.5,335.7 153.5,335.3 154.5,334.9 C155.5,334.5 156.5,334.2 157.5,333.8 C158.5,333.4 159.5,333.1 160.5,332.7 C161.6,332.3 162.6,331.9 163.6,331.5 C164.6,331.1 165.6,330.7 166.6,330.3 C167.6,329.9 168.6,329.4 169.6,329.0 C170.6,328.5 171.6,328.0 172.6,327.5 C173.6,327.0 174.6,326.4 175.6,325.8 C176.6,325.2 177.8,324.4 178.6,323.8 C179.4,323.2 179.9,322.7 180.4,322.2 C180.9,321.8 180.9,321.7 181.7,320.9 C182.4,320.1 183.7,318.5 184.7,317.3 C185.7,316.0 186.8,314.7 187.7,313.6 C188.6,312.6 189.0,312.1 190.0,311.1 C191.0,310.0 192.9,308.0 193.7,307.2 C194.5,306.4 194.3,306.7 194.8,306.2 C195.3,305.8 195.9,305.1 196.7,304.5 C197.5,303.8 198.6,302.9 199.6,302.0 C200.6,301.2 201.7,300.3 202.8,299.5 C203.8,298.7 204.8,298.0 205.8,297.3 C206.8,296.5 207.8,295.8 208.8,295.1 C209.8,294.4 211.1,293.4 211.8,292.9 C212.5,292.4 212.5,292.4 213.0,292.0 C213.5,291.7 214.0,291.3 214.8,290.7 C215.7,290.1 216.9,289.2 217.9,288.4 C218.9,287.6 219.9,286.8 220.9,286.0 C221.9,285.2 222.9,284.4 223.9,283.6 C224.9,282.8 226.1,281.8 226.9,281.2 C227.7,280.5 228.2,280.1 228.7,279.7 C229.2,279.3 229.2,279.3 229.9,278.7 C230.6,278.1 231.9,277.0 232.9,276.2 C233.9,275.4 235.0,274.5 236.0,273.7 C237.0,272.8 238.0,272.0 239.0,271.1 C240.0,270.3 240.9,269.5 241.9,268.7 C242.9,267.9 244.0,267.0 245.0,266.1 C246.0,265.3 247.0,264.4 248.0,263.6 C249.0,262.8 250.3,261.7 251.0,261.1 C251.8,260.4 252.1,260.2 252.6,259.7 C253.1,259.3 253.3,259.1 254.1,258.5 C254.8,257.8 256.1,256.7 257.1,255.9 C258.1,255.0 259.1,254.1 260.1,253.3 C261.1,252.4 262.1,251.5 263.1,250.6 C264.1,249.8 265.1,248.9 266.1,248.1 C267.1,247.2 268.1,246.3 269.1,245.5 C270.1,244.6 271.1,243.8 272.2,243.0 C273.2,242.1 274.2,241.3 275.2,240.5 C276.2,239.6 277.2,238.8 278.2,238.0 C279.2,237.2 280.2,236.4 281.2,235.6 C282.2,234.7 283.2,233.9 284.2,233.1 C285.2,232.3 286.2,231.5 287.2,230.8 C288.2,230.0 289.2,229.2 290.3,228.4 C291.3,227.6 292.3,226.8 293.3,226.0 C294.3,225.3 295.3,224.5 296.3,223.7 C297.3,223.0 298.3,222.2 299.3,221.4 C300.3,220.7 301.3,219.9 302.3,219.2 C303.3,218.4 304.3,217.7 305.3,216.9 C306.3,216.2 307.3,215.4 308.4,214.7 C309.4,213.9 310.4,213.2 311.4,212.5 C312.4,211.7 313.4,211.0 314.4,210.3 C315.4,209.5 316.4,208.8 317.4,208.1 C318.4,207.3 319.4,206.6 320.4,205.9 C321.4,205.2 322.4,204.5 323.4,203.8 C324.4,203.0 325.4,202.3 326.5,201.6 C327.5,200.9 328.5,200.2 329.5,199.5 C330.5,198.8 331.5,198.1 332.5,197.4 C333.5,196.7 334.5,196.0 335.5,195.3 C336.5,194.6 337.5,193.9 338.5,193.2 C339.5,192.5 340.8,191.6 341.5,191.1 C342.3,190.6 342.5,190.4 343.0,190.1 C343.5,189.7 343.8,189.5 344.5,189.0 C345.3,188.5 346.6,187.6 347.6,186.9 C348.6,186.3 349.6,185.6 350.6,184.9 C351.6,184.2 352.6,183.5 353.6,182.8 C354.6,182.1 355.6,181.5 356.6,180.8 C357.6,180.1 358.6,179.4 359.6,178.7 C360.6,178.0 361.6,177.4 362.6,176.7 C363.7,176.0 364.7,175.3 365.7,174.6 C366.7,173.9 367.7,173.3 368.7,172.6 C369.7,171.9 370.7,171.2 371.7,170.5 C372.7,169.9 373.7,169.2 374.7,168.5 C375.7,167.8 376.7,167.1 377.7,166.5 C378.7,165.8 379.7,165.1 380.7,164.4 C381.8,163.8 382.8,163.1 383.8,162.4 C384.8,161.8 385.8,161.1 386.8,160.4 C387.8,159.7 388.8,159.1 389.8,158.4 C390.8,157.8 391.9,157.0 392.8,156.4 C393.7,155.9 394.0,155.7 395.0,155.0 C396.0,154.4 397.7,153.3 398.8,152.5 C400.0,151.8 400.9,151.2 401.9,150.6 C402.9,149.9 403.9,149.3 404.9,148.6 C405.9,148.0 406.9,147.3 407.9,146.7 C408.9,146.1 409.9,145.4 410.9,144.8 C411.9,144.1 412.9,143.5 413.9,142.8 C414.9,142.2 415.9,141.5 416.9,140.9 C417.9,140.2 419.0,139.6 420.0,138.9 C421.0,138.2 422.0,137.6 423.0,136.9 C424.0,136.2 425.0,135.6 426.0,134.9 C427.0,134.2 428.0,133.5 429.0,132.9 C430.0,132.2 431.0,131.5 432.0,130.8 C433.0,130.1 434.0,129.4 435.0,128.7 C436.0,128.0 437.1,127.3 438.1,126.5 C439.1,125.8 440.1,125.1 441.1,124.4 C442.1,123.6 443.1,122.9 444.1,122.2 C445.1,121.4 446.1,120.7 447.1,119.9 C448.1,119.2 449.1,118.5 450.1,117.7 C451.1,116.9 452.1,116.2 453.1,115.4 C454.1,114.7 455.2,113.9 456.2,113.2 C457.2,112.4 458.2,111.6 459.2,110.9 C460.2,110.1 461.2,109.3 462.2,108.6 C463.2,107.8 464.2,107.0 465.2,106.3 C466.2,105.5 467.2,104.7 468.2,104.0 C469.2,103.2 470.2,102.4 471.2,101.7 C472.2,100.9 473.3,100.1 474.3,99.4 C475.3,98.6 476.3,97.8 477.3,97.1 C478.3,96.3 479.4,95.5 480.3,94.8 C481.2,94.1 481.7,93.8 482.7,93.0 C483.7,92.3 485.2,91.1 486.3,90.3 C487.4,89.5 488.3,88.8 489.3,88.1 C490.3,87.4 491.4,86.6 492.4,85.9 C493.4,85.1 494.4,84.4 495.4,83.7 C496.4,82.9 497.4,82.2 498.4,81.5 C499.4,80.7 500.4,80.0 501.4,79.3 C502.4,78.6 503.4,77.8 504.4,77.1 C505.4,76.4 506.5,75.6 507.4,74.9 C508.4,74.2 509.0,73.8 510.0,73.0 C511.0,72.3 512.4,71.3 513.5,70.5 C514.6,69.7 515.5,69.0 516.5,68.3 C517.5,67.6 518.5,66.8 519.5,66.1 C520.5,65.3 521.5,64.6 522.5,63.8 C523.5,63.1 524.5,62.3 525.5,61.6 C526.5,60.8 527.5,60.1 528.6,59.3 C529.6,58.5 530.6,57.7 531.6,57.0 C532.6,56.2 533.6,55.4 534.6,54.7 C535.6,53.9 536.6,53.2 537.6,52.4 C538.6,51.7 539.6,51.0 540.6,50.3 C541.6,49.7 542.7,49.0 543.6,48.4 C544.6,47.8 545.3,47.4 546.3,46.8 C547.3,46.3 548.6,45.6 549.7,45.2 C550.7,44.7 551.7,44.3 552.7,44.0 C553.7,43.7 554.7,43.4 555.7,43.2 C556.7,43.1 557.7,42.9 558.7,42.9 C559.7,42.9 560.7,42.9 561.7,43.1 C562.7,43.2 563.9,43.4 564.8,43.6 C565.6,43.8 565.9,43.9 566.9,44.1 C567.9,44.3 569.6,44.8 570.8,45.1 C571.9,45.3 573.3,45.5 573.8,45.6" stroke="#D48E92"/>
</g>
<text transform="translate(61.44,21.14) scale(0.956,1.045)">3</text>
<text transform="translate(43.23,87.65) scale(0.974,1.013)">2.5</text>
<text transform="translate(61.99,155.20) scale(0.907,1.049)">2</text>
<text transform="translate(42.97,222.65) scale(0.989,1.010)">1.5</text>
<text transform="translate(61.54,289.90) scale(0.947,1.027)">1</text>
<text transform="translate(42.76,356.84) scale(0.990,1.026)">0.5</text>
<text transform="translate(61.09,424.14) scale(1.076,1.026)">0</text>
<text transform="translate(841.29,20.90) scale(0.975,1.030)">12</text>
<text transform="translate(841.21,78.45) scale(1.021,1.013)">10</text>
<text transform="translate(841.20,136.14) scale(0.995,1.045)">8</text>
<text transform="translate(841.20,193.94) scale(0.995,1.045)">6</text>
<text transform="translate(841.20,251.70) scale(1.000,1.047)">4</text>
<text transform="translate(841.55,308.90) scale(0.946,1.043)">2</text>
<text transform="translate(840.90,366.64) scale(1.067,1.045)">0</text>
<text transform="translate(840.70,423.90) scale(1.000,1.030)">-2</text>
<text transform="translate(90.22,454.64) scale(1.038,1.045)">0</text>
<text transform="translate(150.13,454.25) scale(1.011,1.006)">10</text>
<text transform="translate(215.70,454.44) scale(1.000,1.032)">20</text>
<text transform="translate(412.15,454.64) scale(1.053,1.045)">50</text>
<text transform="translate(609.48,454.64) scale(1.018,1.045)">80</text>
<text transform="translate(735.03,454.44) scale(1.009,1.032)">100</text>
<text transform="translate(800.85,454.44) scale(1.058,1.032)">110</text>
<text transform="translate(281.38,454.54) scale(1.022,1.039)">30</text>
<text transform="translate(348.10,454.54) scale(1.000,1.039)">40</text>
<text transform="translate(479.18,454.54) scale(1.022,1.039)">60</text>
<text transform="translate(544.71,454.54) scale(1.034,1.039)">70</text>
<text transform="translate(674.58,454.54) scale(1.022,1.039)">90</text>
<text transform="translate(346.09,490.50) scale(0.979,1.031)">Depth of discharge (%)</text>
<text transform="translate(22.00,271.75) rotate(-90) scale(1.010,1.004)">Voltage (V)</text>
<text transform="translate(895.90,299.61) rotate(-90) scale(1.023,0.984)">Temperature (°C)</text>
<path d="M915.5,104.1H948.5" stroke="#B3393F" stroke-width="2.7" stroke-linecap="round"/>
<text transform="translate(952.50,113.70) scale(0.997,1.024)">2 It</text>
<path d="M915.5,153.9H948.5" stroke="#88B03F" stroke-width="2.7" stroke-linecap="round"/>
<text transform="translate(951.77,163.60) scale(1.027,1.024)">5 It</text>
<path d="M915.5,204.0H948.5" stroke="#71549C" stroke-width="2.7" stroke-linecap="round"/>
<text transform="translate(952.16,213.70) scale(0.995,1.024)">10 It</text>
<path d="M915.5,253.9H948.5" stroke="#DF8026" stroke-width="2.7" stroke-linecap="round"/>
<text transform="translate(951.81,264.10) scale(0.977,1.018)">T_2 It</text>
<path d="M915.5,304.0H948.5" stroke="#98AED7" stroke-width="2.7" stroke-linecap="round"/>
<text transform="translate(952.02,314.40) scale(0.960,1.018)">T_5 It</text>
<path d="M915.5,354.0H948.5" stroke="#D48E92" stroke-width="2.7" stroke-linecap="round"/>
<text transform="translate(952.01,363.80) scale(0.974,1.031)">T_10 It</text>
</svg></body></html>
